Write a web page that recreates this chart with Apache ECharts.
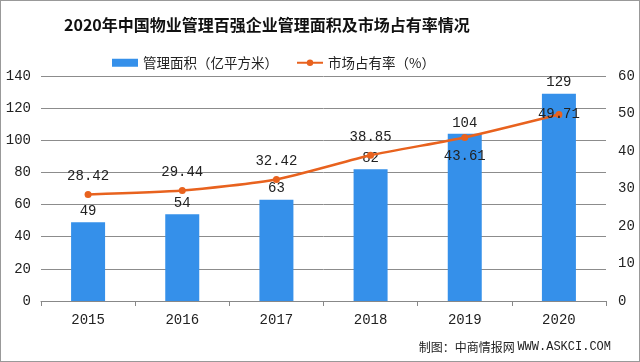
<!DOCTYPE html>
<html><head><meta charset="utf-8">
<script src="https://cdn.jsdelivr.net/npm/echarts@6/dist/echarts.min.js"></script>
<style>html,body{margin:0;padding:0;background:#fff}#c{width:640px;height:362px;box-sizing:border-box;border:1px solid #999}</style>
</head><body><div id="c"></div>
<script>
const categories = ['2015','2016','2017','2018','2019','2020'];
const areaValues = [49, 54, 63, 82, 104, 129];
const shareValues = [28.42, 29.44, 32.42, 38.85, 43.61, 49.71];
const leftTicks = {min:0, max:140, interval:20};
const rightTicks = {min:0, max:60, interval:10};

const shareLabelPos = ['top','top','top','top','bottom','inside'];

const chart = echarts.init(document.getElementById('c'));
const numFont = '"Liberation Mono", "DejaVu Sans Mono", monospace';
const cjk = '"Noto Sans CJK SC", sans-serif';
chart.setOption({
  animation:false,
  title:{text:'2020年中国物业管理百强企业管理面积及市场占有率情况', left:58, top:11,
    textStyle:{fontFamily:cjk, fontSize:16, fontWeight:'bold', color:'#111'}},
  legend:{top:50, left:106, itemGap:18, itemWidth:26, itemHeight:8,
    textStyle:{fontFamily:cjk, fontSize:13.5, color:'#222'},
    data:[{name:'管理面积（亿平方米）', icon:'rect'}, {name:'市场占有率（%）'}]},
  graphic:[{type:'text', right:28, top:340, style:{
    text:'{a|制图：中商情报网 }{b|WWW.ASKCI.COM}',
    rich:{a:{fontFamily:cjk, fontSize:12, fill:'#222'}, b:{fontFamily:numFont, fontSize:12, fill:'#222'}}}}],
  grid:{left:40, right:33, top:75, bottom:60},
  xAxis:{type:'category', data:categories,
    axisLine:{lineStyle:{color:'#888'}}, axisTick:{show:true, lineStyle:{color:'#888'}},
    axisLabel:{fontFamily:numFont, fontSize:14, color:'#222', margin:12}},
  yAxis:[
    {type:'value', min:leftTicks.min, max:leftTicks.max, interval:leftTicks.interval,
      axisLabel:{fontFamily:numFont, fontSize:14, color:'#222', margin:10},
      splitLine:{lineStyle:{color:'#8c8c8c'}}, axisLine:{show:false}},
    {type:'value', min:rightTicks.min, max:rightTicks.max, interval:rightTicks.interval,
      axisLabel:{fontFamily:numFont, fontSize:14, color:'#222', margin:12},
      splitLine:{show:false}, axisLine:{show:false}}
  ],
  series:[
    {name:'管理面积（亿平方米）', type:'bar', data:areaValues, barWidth:34, yAxisIndex:0,
      itemStyle:{color:'#3590EA'},
      label:{show:true, position:'top', distance:4, fontFamily:numFont, fontSize:14, color:'#222'}},
    {name:'市场占有率（%）', type:'line', yAxisIndex:1,
      data:shareValues.map((v,i)=>({value:v, label:{position:shareLabelPos[i]}})),
      symbol:'circle', symbolSize:7, smooth:0.2,
      lineStyle:{color:'#E8621E', width:2.5}, itemStyle:{color:'#E8621E'},
      label:{show:true, position:'top', distance:8, fontFamily:numFont, fontSize:14, color:'#222',
        formatter:p=>p.value.toFixed(2)}}
  ]
});
</script></body></html>
